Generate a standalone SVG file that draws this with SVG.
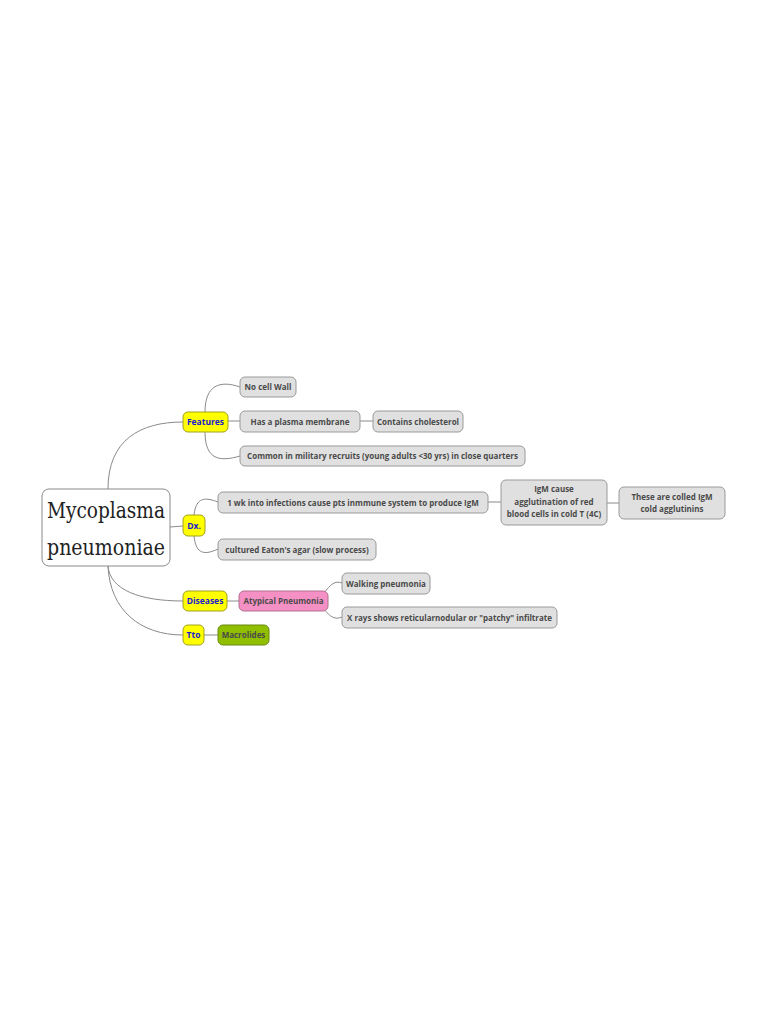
<svg xmlns="http://www.w3.org/2000/svg" width="768" height="1024" viewBox="0 0 768 1024">
<style>
.c{fill:none;stroke:#8a8a8a;stroke-width:1}
.g{fill:#e0e0e0;stroke:#9a9a9a;stroke-width:1}
.y{fill:#ffff00;stroke:#a0a020;stroke-width:1}
.p{fill:#f590c4;stroke:#b07090;stroke-width:1}
.v{fill:#8fbf00;stroke:#6a8a10;stroke-width:1}
.t{font-family:"Open Sans","Noto Sans",sans-serif;font-size:8px;font-weight:700;fill:#4a4a4a;text-anchor:middle}
.b{font-family:"Open Sans","Noto Sans",sans-serif;font-size:8.5px;font-weight:700;fill:#1a1ad0;text-anchor:middle}
.r{font-family:"DejaVu Serif",serif;font-size:22px;fill:#222;text-anchor:middle}
</style>
<rect width="768" height="1024" fill="#ffffff"/>
<g id="connectors">
<path class="c" d="M108,489 C108,440 140,422 183,422"/>
<path class="c" d="M170,527 L183,526"/>
<path class="c" d="M108,566 C110,590 140,601 183,601"/>
<path class="c" d="M108,566 C110,610 140,635 183,635"/>
<path class="c" d="M205,412 C205,385 220,380 240,387"/>
<path class="c" d="M228,421 L240,421"/>
<path class="c" d="M205,432 C205,460 220,462 240,456"/>
<path class="c" d="M360,421 L373,421"/>
<path class="c" d="M194,515 C196,497 205,497 218,502"/>
<path class="c" d="M194,536 C196,555 205,555 218,549"/>
<path class="c" d="M488,502 L501,502"/>
<path class="c" d="M607,503 L619,503"/>
<path class="c" d="M227,601 L239,601"/>
<path class="c" d="M204,635 L218,635"/>
<path class="c" d="M324,593 C330,585 335,580 342,583"/>
<path class="c" d="M324,609 C330,617 335,620 342,617"/>
</g>
<g id="root"><rect x="42" y="489" width="128" height="77" rx="7" fill="#ffffff" stroke="#8a8a8a"/>
<text class="r" x="106" y="518" textLength="118" lengthAdjust="spacingAndGlyphs">Mycoplasma</text>
<text class="r" x="106" y="555" textLength="118" lengthAdjust="spacingAndGlyphs">pneumoniae</text></g>
<g id="features"><rect class="y" x="183" y="412" width="45" height="20" rx="5"/><text class="b" x="205.5" y="425">Features</text></g>
<g id="nocellwall"><rect class="g" x="240" y="377" width="56" height="20" rx="5"/><text class="t" x="268" y="390">No cell Wall</text></g>
<g id="plasma"><rect class="g" x="240" y="411" width="120" height="21" rx="5"/><text class="t" x="300" y="424.5">Has a plasma membrane</text></g>
<g id="cholesterol"><rect class="g" x="373" y="411" width="90" height="21" rx="5"/><text class="t" x="418" y="424.5">Contains cholesterol</text></g>
<g id="common"><rect class="g" x="240" y="446" width="285" height="20" rx="5"/><text class="t" x="382.5" y="459">Common in military recruits (young adults &lt;30 yrs) in close quarters</text></g>
<g id="dx"><rect class="y" x="183" y="515" width="22" height="21" rx="5"/><text class="b" x="194" y="528.5">Dx.</text></g>
<g id="onewk"><rect class="g" x="218" y="492" width="270" height="21" rx="5"/><text class="t" x="353" y="505.5">1 wk into infections cause pts inmmune system to produce IgM</text></g>
<g id="igm"><rect class="g" x="501" y="480" width="106" height="45" rx="5"/>
<text class="t" x="554" y="492">IgM cause</text><text class="t" x="554" y="504.5">agglutination of red</text><text class="t" x="554" y="517">blood cells in cold T (4C)</text></g>
<g id="agglutinins"><rect class="g" x="619" y="487" width="106" height="32" rx="5"/>
<text class="t" x="672" y="500">These are colled IgM</text><text class="t" x="672" y="512">cold agglutinins</text></g>
<g id="cultured"><rect class="g" x="218" y="539" width="158" height="21" rx="5"/><text class="t" x="297" y="552.5">cultured Eaton's agar (slow process)</text></g>
<g id="diseases"><rect class="y" x="183" y="591" width="44" height="20" rx="5"/><text class="b" x="205" y="604">Diseases</text></g>
<g id="atypical"><rect class="p" x="239" y="591" width="89" height="20" rx="5"/><text class="t" x="283.5" y="604">Atypical Pneumonia</text></g>
<g id="walking"><rect class="g" x="342" y="573" width="88" height="21" rx="5"/><text class="t" x="386" y="586.5">Walking pneumonia</text></g>
<g id="xrays"><rect class="g" x="342" y="607" width="215" height="21" rx="5"/><text class="t" x="449.5" y="620.5">X rays shows reticularnodular or "patchy" infiltrate</text></g>
<g id="tto"><rect class="y" x="183" y="625" width="21" height="20" rx="5"/><text class="b" x="193.5" y="638">Tto</text></g>
<g id="macrolides"><rect class="v" x="218" y="625" width="51" height="20" rx="5"/><text class="t" x="243.5" y="638">Macrolides</text></g>
</svg>
